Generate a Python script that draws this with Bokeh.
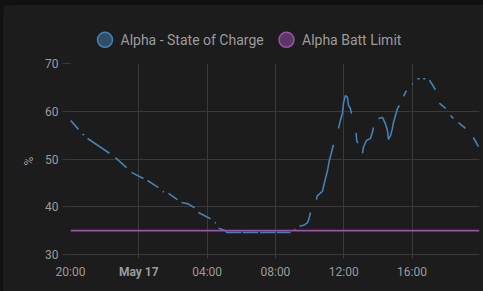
import numpy as np
import pandas as pd
from bokeh.plotting import figure
from bokeh.models import Range1d, FixedTicker, Spacer, ColumnDataSource
from bokeh.layouts import column, row
from bokeh.embed import file_html
from bokeh.resources import INLINE
from bokeh.core.properties import value

# ---------------- data ----------------
START = pd.Timestamp("2024-05-16 20:00")
END_HOURS = 23.95

# hours since 20:00 on May 16; None marks a gap in the recorded history
soc_hours = [
    0.00, 0.47, None,
    0.70, 0.80, None,
    1.00, 2.28, None,
    2.63, 3.28, None,
    3.57, 4.27, None,
    4.51, 5.15, None,
    5.40, 5.47, None,
    5.74, 6.26, None,
    6.50, 6.90, 7.26, None,
    7.49, 8.20, None,
    8.45, 8.52, None,
    8.67, 8.85, 9.07, 9.15, 10.00, None,
    10.08, 11.00, None,
    11.10, 12.00, None,
    12.08, 12.88, None,
    13.11, 13.17, None,
    13.41, 13.70, 13.88, 13.95, 14.05, None,
    14.40, 14.45, 14.75, 14.87, 15.05, 15.16, 15.34, 15.40, None,
    15.69, 15.81, 15.93, 15.98, 16.10, 16.22, 16.28, 16.39, 16.45, None,
    16.72, 16.76, 16.82, None,
    17.10, 17.15, 17.33, 17.56, 17.68, 17.74, None,
    18.03, 18.27, 18.44, 18.56, 18.62, 18.74, 18.85, 18.91, 19.03, 19.15, 19.26, None,
    19.50, 19.67, None,
    20.00, 20.05, None,
    20.30, 20.45, None,
    20.65, 20.78, None,
    21.02, 21.20, 21.37, None,
    21.60, 21.96, None,
    22.25, 22.42, None,
    22.72, 23.13, None,
    23.59, 23.89,
]
soc_values = [
    58.1, 56.2, None,
    55.2, 55.0, None,
    54.3, 51.2, None,
    50.3, 48.2, None,
    47.2, 45.9, None,
    45.5, 44.0, None,
    43.2, 43.1, None,
    42.8, 41.5, None,
    40.9, 40.6, 39.8, None,
    38.8, 37.5, None,
    36.7, 36.6, None,
    35.5, 35.3, 35.0, 34.6, 34.6, None,
    34.6, 34.6, None,
    34.6, 34.6, None,
    34.6, 34.6, None,
    35.2, 35.3, None,
    35.9, 36.2, 36.7, 37.3, 38.8, None,
    41.5, 42.3, 43.2, 45.0, 47.6, 49.7, 52.2, 53.0, None,
    56.4, 58.1, 59.7, 61.6, 63.3, 62.9, 61.2, 60.6, 59.5, None,
    55.5, 54.0, 53.3, None,
    51.2, 52.4, 53.9, 54.3, 55.6, 56.6, None,
    58.5, 58.7, 57.4, 56.0, 54.1, 54.9, 56.4, 57.6, 59.1, 60.6, 61.2, None,
    63.1, 64.3, None,
    65.6, 65.7, None,
    66.8, 66.8, None,
    66.8, 66.8, None,
    66.5, 65.5, 64.5, None,
    61.7, 60.6, None,
    59.1, 58.5, None,
    57.6, 56.4, None,
    54.5, 52.6,
]

limit_hours = [0.0, END_HOURS]
limit_values = [35, 35]

x_tick_hours = [0, 4, 8, 12, 16, 20]
x_tick_labels = ["20:00", "May 17", "04:00", "08:00", "12:00", "16:00"]
x_tick_bold = [False, True, False, False, False, False]
y_ticks = [30, 40, 50, 60, 70]
y_min, y_max = 30, 70

series_names = ["Alpha - State of Charge", "Alpha Batt Limit"]
series_colors = ["#4580b5", "#9c4fab"]

# ---------------- helpers ----------------
def to_ms(hours):
    out = []
    for h in hours:
        if h is None:
            out.append(np.nan)
        else:
            out.append((START + pd.Timedelta(hours=h)).value / 1e6)
    return np.array(out, dtype=float)

def to_arr(vals):
    return np.array([np.nan if v is None else v for v in vals], dtype=float)

CARD = "#1c1c1c"
PAGE = "#111111"
GRID = "#3a3a3a"
TEXT = "#9b9b9b"
FONT = "Roboto"

W = 480                    # card width
LEFT, RIGHT = 67, 4        # frame insets
LEG_H = 50                 # legend strip height
PLOT_PX = 191              # pixels between the 70 and 30 grid lines
TICK_OUT = 4               # vertical grid lines run this far below the 30 line
TOP_PAD, BOT_PAD = 8, 6
MAIN_H = TOP_PAD + PLOT_PX + TICK_OUT + BOT_PAD
TICK_H = 286 - LEG_H - MAIN_H

t0 = to_ms([0.0])[0]
t1 = to_ms([END_HOURS])[0]
x_range = Range1d(t0, t1)
ms_per_px = (t1 - t0) / (W - LEFT - RIGHT)
units_per_px = (y_max - y_min) / PLOT_PX

def strip(height, xr, yr):
    f = figure(width=W, height=height, output_backend="svg", toolbar_location=None,
               x_range=xr, y_range=yr, x_axis_location=None, y_axis_location=None,
               min_border_left=0, min_border_right=0, min_border_top=0, min_border_bottom=0,
               background_fill_color=CARD, border_fill_color=CARD, outline_line_color=None)
    f.xgrid.visible = False
    f.ygrid.visible = False
    f.frame_align = False
    return f

# ---------------- legend strip ----------------
lg = strip(LEG_H, Range1d(0, W), Range1d(0, LEG_H))
key_x = [101.5, 283.0]          # legend layout (pixels within the strip)
key_y = [LEG_H - 34.3] * 2
lab_x = [kx + 15.5 for kx in key_x]
lg.scatter(x=key_x, y=key_y, marker="circle", size=15, fill_color=series_colors,
           fill_alpha=0.5, line_color=series_colors, line_width=1.5)
lg.text(x=lab_x, y=key_y, text=series_names, text_font=value(FONT), text_font_size="14px",
        text_color=TEXT, text_align="left", text_baseline="middle")

# ---------------- main chart ----------------
p = figure(width=W, height=MAIN_H, output_backend="svg", toolbar_location=None,
           x_range=x_range,
           y_range=Range1d(y_min - TICK_OUT * units_per_px, y_max),
           x_axis_location=None,
           min_border_left=LEFT, min_border_right=RIGHT,
           min_border_top=TOP_PAD, min_border_bottom=BOT_PAD,
           background_fill_color=CARD, border_fill_color=CARD, outline_line_color=None)
p.frame_align = False

soc_src = ColumnDataSource(dict(t=to_ms(soc_hours), v=to_arr(soc_values)))
lim_src = ColumnDataSource(dict(t=to_ms(limit_hours), v=to_arr(limit_values)))

p.line("t", "v", source=soc_src, line_color=series_colors[0], line_width=1.6)
p.line("t", "v", source=lim_src, line_color=series_colors[1], line_width=1.6)

tick_ms = list(to_ms(x_tick_hours))
p.xgrid.ticker = FixedTicker(ticks=tick_ms)
p.yaxis.ticker = FixedTicker(ticks=y_ticks)
p.yaxis.axis_label = "%"
ya = p.yaxis[0]
ya.axis_line_color = None
ya.major_tick_line_color = GRID
ya.major_tick_in = 0
ya.major_tick_out = 8
ya.minor_tick_line_color = None
ya.major_label_text_font = FONT
ya.major_label_text_font_size = "12px"
ya.major_label_text_color = TEXT
ya.major_label_standoff = 4
ya.axis_label_text_font = FONT
ya.axis_label_text_font_size = "12px"
ya.axis_label_text_color = TEXT
ya.axis_label_text_font_style = "normal"
ya.axis_label_standoff = 6

p.xgrid.grid_line_color = GRID
p.ygrid.grid_line_color = GRID

# ---------------- time-axis labels strip (same time scale, wider frame) ----------------
tk = strip(TICK_H, Range1d(t0 - LEFT * ms_per_px, t1 + RIGHT * ms_per_px), Range1d(0, TICK_H))
tick_src = ColumnDataSource(dict(
    t=tick_ms,
    y=[TICK_H - 7.5] * len(tick_ms),
    label=x_tick_labels,
    style=["bold" if b else "normal" for b in x_tick_bold],
))
r = tk.text(x="t", y="y", text="label", source=tick_src, text_font=value(FONT),
            text_font_size="12px", text_color=TEXT,
            text_align="center", text_baseline="middle")
r.glyph.text_font_style = "style"

card = column(lg, p, tk, styles={"background-color": CARD, "border-top-left-radius": "10px"})
top_strip = Spacer(width=483, height=5)
left_strip = Spacer(width=3, height=286)
layout = column(top_strip, row(left_strip, card, styles={"background-color": PAGE}),
                styles={"background-color": PAGE})

open("out.html", "w").write(file_html(layout, INLINE))
